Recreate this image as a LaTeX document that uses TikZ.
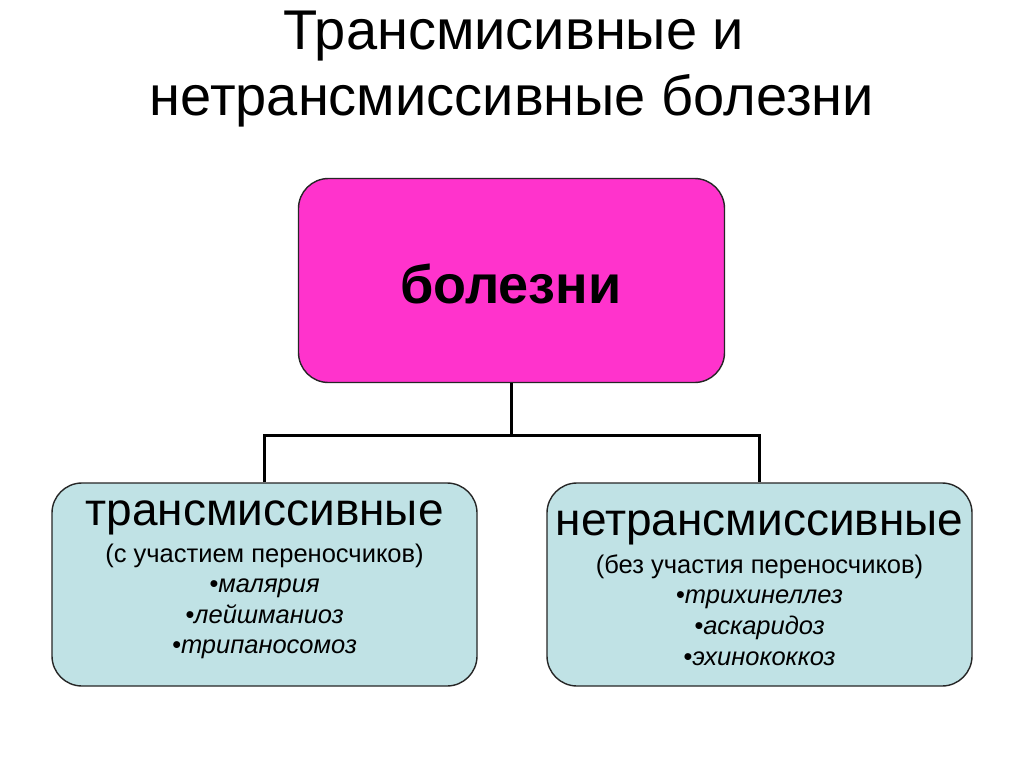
\documentclass[tikz,border=0pt]{standalone}
\usepackage{fontspec}
\setmainfont{Liberation Sans}
\definecolor{pinkfill}{RGB}{255,51,204}
\definecolor{cyanfill}{RGB}{192,226,229}
\begin{document}
\begin{tikzpicture}[x=1pt,y=-1pt,
  box/.style={draw=black!85, line width=1.4pt, rounded corners=30pt, inner sep=0pt},
  topbox/.style={box, fill=pinkfill, minimum width=426pt, minimum height=204pt},
  subbox/.style={box, fill=cyanfill, minimum width=425pt, minimum height=203pt},
  conn/.style={draw=black, line width=3pt},
  txt/.style={inner sep=0pt, anchor=base},
  titlefont/.style={font=\fontsize{56}{66}\selectfont},
  headfont/.style={font=\fontsize{46}{54}\selectfont},
  subfont/.style={font=\fontsize{25.5}{30}\selectfont},
  itemfont/.style={font=\fontsize{25.5}{30}\selectfont\itshape}]
\useasboundingbox[fill=white] (0,0) rectangle (1024,768);
% title
\node[txt, titlefont] (t1) at (514,49) {Трансмисивные и};
\node[txt, titlefont] (t2) at (512,115) {нетрансмиссивные болезни};
% boxes
\node[topbox] (top) at (511.5,280.5) {};
\node[txt, font=\bfseries\fontsize{54}{60}\selectfont] (topt) at (511,303) {болезни};
\node[subbox] (left) at (264.5,584.5) {};
\node[subbox] (right) at (759.5,584.5) {};
% connectors
\coordinate (j) at (511.5,435);
\draw[conn] (top.south) -- (j);
\draw[conn] (left.north) |- (j) -| (right.north);
% left texts
\node[txt, headfont] (l1) at (264.5,525) {трансмиссивные};
\node[txt, subfont] (l2) at (264.5,562) {(с участием переносчиков)};
\node[txt, itemfont] (l3) at (264.5,592) {•малярия};
\node[txt, itemfont] (l4) at (264.5,623) {•лейшманиоз};
\node[txt, itemfont] (l5) at (264.5,653) {•трипаносомоз};
% right texts
\node[txt, headfont] (r1) at (759.5,535) {нетрансмиссивные};
\node[txt, subfont] (r2) at (759.5,573) {(без участия переносчиков)};
\node[txt, itemfont] (r3) at (759.5,603) {•трихинеллез};
\node[txt, itemfont] (r4) at (759.5,634) {•аскаридоз};
\node[txt, itemfont] (r5) at (759.5,665) {•эхинококкоз};
\end{tikzpicture}
\end{document}
